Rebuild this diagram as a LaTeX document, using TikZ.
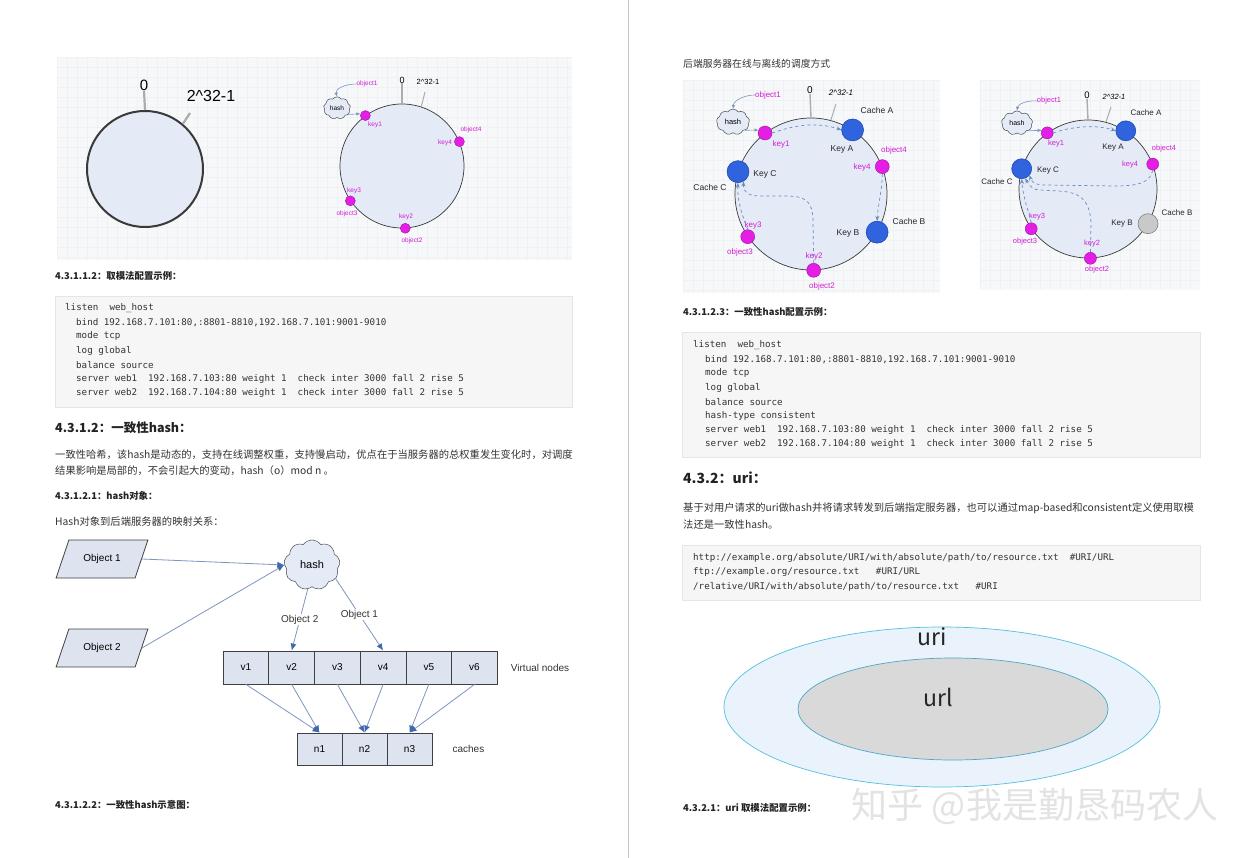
\documentclass[tikz,border=0pt]{standalone}
\usepackage{fontspec}
\setmainfont{Noto Sans CJK SC}
\newfontfamily\diagfont{Liberation Sans}
\newfontfamily\codefont{DejaVu Sans Mono}
\usetikzlibrary{positioning,calc,shapes.geometric,shapes.symbols,arrows.meta}

\definecolor{ringblue}{HTML}{E4EAF6}
\definecolor{ringedge}{HTML}{3A3A3A}
\definecolor{keymag}{HTML}{E51EE5}
\definecolor{keyedge}{HTML}{9A129A}
\definecolor{keytext}{HTML}{D21FD2}
\definecolor{cacheblue}{HTML}{3063DE}
\definecolor{cacheedge}{HTML}{1D42A8}
\definecolor{cachegray}{HTML}{C9C9C9}
\definecolor{linkblue}{HTML}{7E96BE}
\definecolor{dashblue}{HTML}{6A8CBE}
\definecolor{tipblue}{HTML}{3F68B0}
\definecolor{gridbg}{HTML}{F7F8FA}
\definecolor{gridline}{HTML}{F0F1F4}
\definecolor{cellblue}{HTML}{DDE4F0}
\definecolor{codebg}{HTML}{F6F6F6}
\definecolor{codeedge}{HTML}{E6E6E6}
\definecolor{bodygray}{HTML}{333333}
\definecolor{headgray}{HTML}{222222}
\definecolor{urifill}{HTML}{EAF3FB}
\definecolor{uriedge}{HTML}{52C0DE}
\definecolor{urlfill}{HTML}{D9D9D9}
\definecolor{urledge}{HTML}{4DA8C6}

% faint grid panel behind the ring pictures
\newcommand\gridpanel[4]{%
  \begin{scope}
    \clip (#1,#2) rectangle (#3,#4);
    \fill[gridbg] (#1,#2) rectangle (#3,#4);
    \foreach \gx in {0,10,...,520} \draw[gridline, line width=0.3pt] ({#1+\gx},#2) -- ({#1+\gx},#4);
    \foreach \gy in {0,10,...,210} \draw[gridline, line width=0.3pt] (#1,{#2+\gy}) -- (#3,{#2+\gy});
  \end{scope}}

\tikzset{
  bodytext/.style={anchor=west, inner sep=0pt, text=bodygray, font=\fontsize{10.3}{12}\selectfont},
  headsmall/.style={anchor=west, inner sep=0pt, text=headgray, font=\bfseries\fontsize{9.4}{11}\selectfont},
  headbig/.style={anchor=west, inner sep=0pt, text=headgray, font=\bfseries\fontsize{#1}{16}\selectfont},
  headbig/.default=12.5,
  codeline/.style={anchor=west, inner sep=0pt, text=bodygray, font=\codefont\fontsize{9.2}{11}\selectfont},
  codebox/.style={fill=codebg, draw=codeedge, line width=0.6pt},
  ring/.style={circle, draw=ringedge, fill=ringblue, line width=0.7pt, inner sep=0pt, minimum size=#1},
  keydot/.style={circle, fill=keymag, draw=keyedge, line width=0.4pt, inner sep=0pt, minimum size=#1},
  keydot/.default=10,
  cachedot/.style={circle, fill=cacheblue, draw=cacheedge, line width=0.5pt, inner sep=0pt, minimum size=#1},
  cachedot/.default=22,
  keylabel/.style={inner sep=0pt, text=keytext, font=\diagfont\fontsize{#1}{#1}\selectfont},
  keylabel/.default=6.5,
  cachelabel/.style={inner sep=0pt, text=black!85, font=\diagfont\fontsize{#1}{#1}\selectfont},
  cachelabel/.default=8.5,
  hashcloud/.style={cloud, cloud puffs=9, cloud puff arc=110, draw=black!70, fill=ringblue,
    inner sep=0pt, line width=0.5pt},
  ticklink/.style={draw=gray!65, line width=1.4pt},
  feedlink/.style={draw=linkblue, line width=0.6pt, -{Latex[length=4pt,width=3.5pt]}},
  movelink/.style={draw=dashblue, dashed, line width=0.7pt, -{Stealth[length=5pt,width=4pt]}},
  objbox/.style={trapezium, trapezium left angle=62, trapezium right angle=118, trapezium stretches=true,
    draw=black!75, fill=cellblue, minimum width=92pt, minimum height=38pt, line width=0.8pt,
    font=\diagfont\fontsize{10}{10}\selectfont},
  vcell/.style={rectangle, draw=black!75, fill=cellblue, minimum width=45.7pt, minimum height=33pt,
    line width=0.8pt, inner sep=0pt, font=\diagfont\fontsize{10}{10}\selectfont},
  maplink/.style={draw=linkblue, line width=0.8pt, -{Latex[length=7pt,width=6pt,color=tipblue]}},
  edgetag/.style={fill=white, inner sep=1pt, font=\diagfont\fontsize{10}{10}\selectfont, text=black!80},
  sidetag/.style={inner sep=0pt, font=\diagfont\fontsize{10}{10}\selectfont, text=black!80},
  bigword/.style={inner sep=0pt, text=black!85, font=\fontsize{23}{23}\selectfont},
  watermark/.style={inner sep=0pt, text=gray!22, font=\fontsize{36}{36}\selectfont},
}

\begin{document}
\begin{tikzpicture}[x=1pt, y=-1pt]
\useasboundingbox (0,0) rectangle (1253,858);
\fill[white] (0,0) rectangle (1253,858);
\draw[gray!45, line width=1pt] (628,0) -- (628,858);

%% ---------- left page: hash ring pictures ----------
\gridpanel{57}{57}{572}{260}
\node[ring=116, line width=2pt] (ringA) at (145,169) {};
\node[inner sep=0pt, font=\diagfont\fontsize{15}{15}\selectfont] (zeroA) at (144,85) {0};
\node[inner sep=0pt, font=\diagfont\fontsize{16}{16}\selectfont] (maxA) at (211,96) {2\textasciicircum32-1};
\coordinate (tipA) at (190,113);
\draw[ticklink, line width=2.2pt] (zeroA.south) -- (ringA.north);
\draw[ticklink, line width=2.2pt] (ringA.50) -- (tipA);

\node[ring=124] (ringB) at (402,166) {};
\node[inner sep=0pt, font=\diagfont\fontsize{9}{9}\selectfont] (zeroB) at (402,80) {0};
\node[inner sep=0pt, font=\diagfont\fontsize{7.5}{7.5}\selectfont] (maxB) at (428,82) {2\textasciicircum32-1};
\coordinate (tipB) at (425,92);
\draw[ticklink] (zeroB.south) -- (ringB.north);
\draw[ticklink, line width=1pt] (ringB.72) -- (tipB);
\node[hashcloud, minimum width=27pt, minimum height=21pt, font=\diagfont\fontsize{6.5}{6.5}\selectfont] (hashB) at (337,108) {hash};
\node[keylabel] (objB1) at (367,84) {object1};
\node[keydot] (keyB1) at (ringB.126) {};
\node[keydot] (keyB4) at (ringB.23) {};
\node[keydot] (keyB3) at (ringB.214) {};
\node[keydot] (keyB2) at (ringB.273) {};
\node[keylabel] (labB1) at (375,125) {key1};
\node[keylabel] (labB4) at (445,143) {key4};
\node[keylabel] (objB4) at (471,130) {object4};
\node[keylabel] (labB3) at (354,191) {key3};
\node[keylabel] (objB3) at (347,214) {object3};
\node[keylabel] (labB2) at (406,217) {key2};
\node[keylabel] (objB2) at (412,241) {object2};
\draw[feedlink] (objB1.west) .. controls (345,84) and (335,89) .. (hashB.north);
\draw[feedlink] (hashB.-30) -- (keyB1.160);

%% ---------- left page: text ----------
\node[headsmall] (hdA) at (55,276) {4.3.1.1.2：取模法配置示例：};
\fill[codebox] (55,296) rectangle (572,407);
\node[codeline] (codeA0) at (65,308) {listen~~web\_host};
\foreach \txt [count=\k] in {{bind 192.168.7.101:80,:8801-8810,192.168.7.101:9001-9010},{mode tcp},{log global},{balance source},{server web1~~192.168.7.103:80 weight 1~~check inter 3000 fall 2 rise 5},{server web2~~192.168.7.104:80 weight 1~~check inter 3000 fall 2 rise 5}}
  \node[codeline] (codeA\k) at (76,{308+14.2*\k}) {\txt};

\node[headbig] (hdB) at (55,428) {4.3.1.2：一致性hash：};
\node[bodytext] (paraB1) at (55,455) {一致性哈希，该hash是动态的，支持在线调整权重，支持慢启动，优点在于当服务器的总权重发生变化时，对调度};
\node[bodytext] (paraB2) at (55,471) {结果影响是局部的，不会引起大的变动，hash（o）mod n 。};
\node[headsmall] (hdC) at (55,496) {4.3.1.2.1：hash对象：};
\node[bodytext] (paraC) at (55,522) {Hash对象到后端服务器的映射关系：};

%% ---------- left page: objects -> hash -> virtual nodes -> caches ----------
\node[objbox] (obj1) at (102,559) {Object 1};
\node[objbox] (obj2) at (102,648) {Object 2};
\node[hashcloud, minimum width=56pt, minimum height=50pt, font=\diagfont\fontsize{11}{11}\selectfont] (hashF) at (312,565) {hash};
\foreach \i in {1,...,6}
  \node[vcell] (v\i) at ({200.3+45.7*\i},667.5) {v\i};
\node[sidetag, anchor=west, right=13pt of v6] (vlabel) {Virtual nodes};
\foreach \i in {1,2,3}
  \node[vcell, minimum width=45pt, minimum height=32pt] (n\i) at ({274.5+45*\i},749) {n\i};
\node[sidetag, anchor=west, right=20pt of n3] (nlabel) {caches};

\draw[maplink] (obj1.east) -- (hashF.west);
\draw[maplink] (obj2.east) -- (hashF.west);
\draw[maplink] (hashF.-100) -- node[edgetag] (tagObj2) {Object 2} (v2.north);
\draw[maplink] (hashF.-30) -- node[edgetag] (tagObj1) {Object 1} (v4.north);
\foreach \s/\t in {1/1,2/1,3/2,4/2,5/3,6/3}
  \draw[maplink] (v\s.south) -- (n\t.north);

\node[headsmall] (hdD) at (55,805) {4.3.1.2.2：一致性hash示意图：};

%% ---------- right page: servers online / offline ----------
\node[bodytext, font=\fontsize{9.8}{12}\selectfont] (hdE) at (683,64) {后端服务器在线与离线的调度方式};
\gridpanel{683}{80}{940}{293}
\gridpanel{980}{80}{1200}{290}

% cache ring, all caches up
\node[ring=152] (ringC) at (811,194) {};
\node[inner sep=0pt, font=\diagfont\fontsize{10}{10}\selectfont] (zeroC) at (810,90) {0};
\node[inner sep=0pt, font=\diagfont\itshape\fontsize{8}{8}\selectfont] (maxC) at (841,93) {2\textasciicircum32-1};
\coordinate (tipC) at (836,104);
\draw[ticklink] (zeroC.south) -- (ringC.north);
\draw[ticklink, line width=1pt] (ringC.75) -- (tipC);
\node[hashcloud, minimum width=33pt, minimum height=25pt, font=\diagfont\fontsize{7.5}{7.5}\selectfont] (hashC) at (733,122) {hash};
\node[keylabel=8] (objC1) at (768,95) {object1};
\node[cachedot] (keyCA) at (ringC.57) {};
\node[cachedot] (keyCB) at (ringC.-30) {};
\node[cachedot] (keyCC) at (ringC.163) {};
\node[keydot=14] (keyC1) at (ringC.127) {};
\node[keydot=14] (keyC4) at (ringC.21) {};
\node[keydot=14] (keyC3) at (ringC.214) {};
\node[keydot=14] (keyC2) at (ringC.272) {};
\node[cachelabel] (cacheCA) at (877,110) {Cache A};
\node[cachelabel] (labCA) at (842,149) {Key A};
\node[cachelabel] (cacheCB) at (909,221) {Cache B};
\node[cachelabel] (labCB) at (848,233) {Key B};
\node[cachelabel] (labCC) at (765,174) {Key C};
\node[cachelabel] (cacheCC) at (710,187) {Cache C};
\node[keylabel=8] (labC1) at (781,144) {key1};
\node[keylabel=8] (objC4) at (894,150) {object4};
\node[keylabel=8] (labC4) at (862,167) {key4};
\node[keylabel=8] (labC3) at (753,225) {key3};
\node[keylabel=8] (objC3) at (740,252) {object3};
\node[keylabel=8] (labC2) at (814,256) {key2};
\node[keylabel=8] (objC2) at (822,286) {object2};
\draw[feedlink] (objC1.west) .. controls (745,95) and (734,100) .. (hashC.north);
\draw[feedlink] (hashC.-35) -- (keyC1.155);
\draw[movelink] (keyC1.east) .. controls (792,126) and (815,121) .. (keyCA.west);
\draw[movelink] (keyC4.south) .. controls (882,192) and (878,204) .. (keyCB.north);
\draw[movelink] (keyC3.north) .. controls (742,215) and (737,200) .. (keyCC.south);
\draw[movelink] (keyC2.north) -- (813,222) .. controls (813,200) and (805,196) .. (785,196)
  -- (760,196) .. controls (748,196) and (743,192) .. (keyCC.-60);

% cache ring, cache B offline
\node[ring=138] (ringD) at (1088,189) {};
\node[inner sep=0pt, font=\diagfont\fontsize{9.5}{9.5}\selectfont] (zeroD) at (1087,95) {0};
\node[inner sep=0pt, font=\diagfont\itshape\fontsize{7.5}{7.5}\selectfont] (maxD) at (1114,97) {2\textasciicircum32-1};
\coordinate (tipD) at (1111,107);
\draw[ticklink] (zeroD.south) -- (ringD.north);
\draw[ticklink, line width=1pt] (ringD.75) -- (tipD);
\node[hashcloud, minimum width=31pt, minimum height=23pt, font=\diagfont\fontsize{7}{7}\selectfont] (hashD) at (1017,123) {hash};
\node[keylabel=7.5] (objD1) at (1049,101) {object1};
\node[cachedot=20] (keyDA) at (ringD.57) {};
\node[cachedot=20, fill=cachegray, draw=black!55] (keyDB) at (ringD.-30) {};
\node[cachedot=20] (keyDC) at (ringD.163) {};
\node[keydot=12] (keyD1) at (ringD.126) {};
\node[keydot=12] (keyD4) at (ringD.21) {};
\node[keydot=12] (keyD3) at (ringD.215) {};
\node[keydot=12] (keyD2) at (ringD.272) {};
\node[cachelabel=8] (cacheDA) at (1146,113) {Cache A};
\node[cachelabel=8] (labDA) at (1113,148) {Key A};
\node[cachelabel=8] (cacheDB) at (1177,213) {Cache B};
\node[cachelabel=8] (labDB) at (1122,224) {Key B};
\node[cachelabel=8] (labDC) at (1048,171) {Key C};
\node[cachelabel=8] (cacheDC) at (997,182) {Cache C};
\node[keylabel=7.5] (labD1) at (1056,144) {key1};
\node[keylabel=7.5] (objD4) at (1164,149) {object4};
\node[keylabel=7.5] (labD4) at (1130,165) {key4};
\node[keylabel=7.5] (labD3) at (1037,217) {key3};
\node[keylabel=7.5] (objD3) at (1025,242) {object3};
\node[keylabel=7.5] (labD2) at (1092,244) {key2};
\node[keylabel=7.5] (objD2) at (1097,270) {object2};
\draw[feedlink] (objD1.west) .. controls (1028,100) and (1018,104) .. (hashD.north);
\draw[feedlink] (hashD.-35) -- (keyD1.155);
\draw[movelink] (keyD1.east) .. controls (1070,127) and (1095,124) .. (keyDA.west);
\draw[movelink] (keyD4.south) .. controls (1150,182) and (1140,186) .. (1115,186)
  -- (1045,185) .. controls (1036,185) and (1032,183) .. (keyDC.-40);
\draw[movelink] (keyD2.north) -- (1091,222) .. controls (1089,199) and (1080,192) .. (1058,191)
  -- (1040,190) .. controls (1034,190) and (1030,187) .. (keyDC.-70);
\draw[movelink] (keyD3.north) .. controls (1029,212) and (1023,198) .. (keyDC.south);

%% ---------- right page: text ----------
\node[headsmall] (hdF) at (683,312) {4.3.1.2.3：一致性hash配置示例：};
\fill[codebox] (682,332) rectangle (1200,457);
\node[codeline] (codeB0) at (693,345) {listen~~web\_host};
\foreach \txt [count=\k] in {{bind 192.168.7.101:80,:8801-8810,192.168.7.101:9001-9010},{mode tcp},{log global},{balance source},{hash-type consistent},{server web1~~192.168.7.103:80 weight 1~~check inter 3000 fall 2 rise 5},{server web2~~192.168.7.104:80 weight 1~~check inter 3000 fall 2 rise 5}}
  \node[codeline] (codeB\k) at (705,{345+14.2*\k}) {\txt};

\node[headbig=14] (hdG) at (683,478) {4.3.2：uri：};
\node[bodytext] (paraG1) at (683,508) {基于对用户请求的uri做hash并将请求转发到后端指定服务器，也可以通过map-based和consistent定义使用取模};
\node[bodytext] (paraG2) at (683,525) {法还是一致性hash。};
\fill[codebox] (682,545) rectangle (1200,600);
\node[codeline] (codeC1) at (693,558) {http://example.org/absolute/URI/with/absolute/path/to/resource.txt~~\#URI/URL};
\node[codeline] (codeC2) at (693,572) {ftp://example.org/resource.txt~~~\#URI/URL};
\node[codeline] (codeC3) at (693,587) {/relative/URI/with/absolute/path/to/resource.txt~~~\#URI};

%% ---------- right page: uri contains url ----------
\node[ellipse, draw=uriedge, fill=urifill, line width=0.7pt, minimum width=436pt, minimum height=160pt] (uriOuter) at (942,707) {};
\node[ellipse, draw=urledge, fill=urlfill, line width=0.7pt, minimum width=310pt, minimum height=102pt] (urlInner) at (953,709) {};
\node[bigword] (uriWord) at (932,637) {uri};
\node[bigword] (urlWord) at (938,697) {url};

\node[headsmall] (hdH) at (683,808) {4.3.2.1：uri 取模法配置示例：};
\node[watermark] (mark) at (1035,806) {知乎 @我是勤恳码农人};
\end{tikzpicture}
\end{document}
